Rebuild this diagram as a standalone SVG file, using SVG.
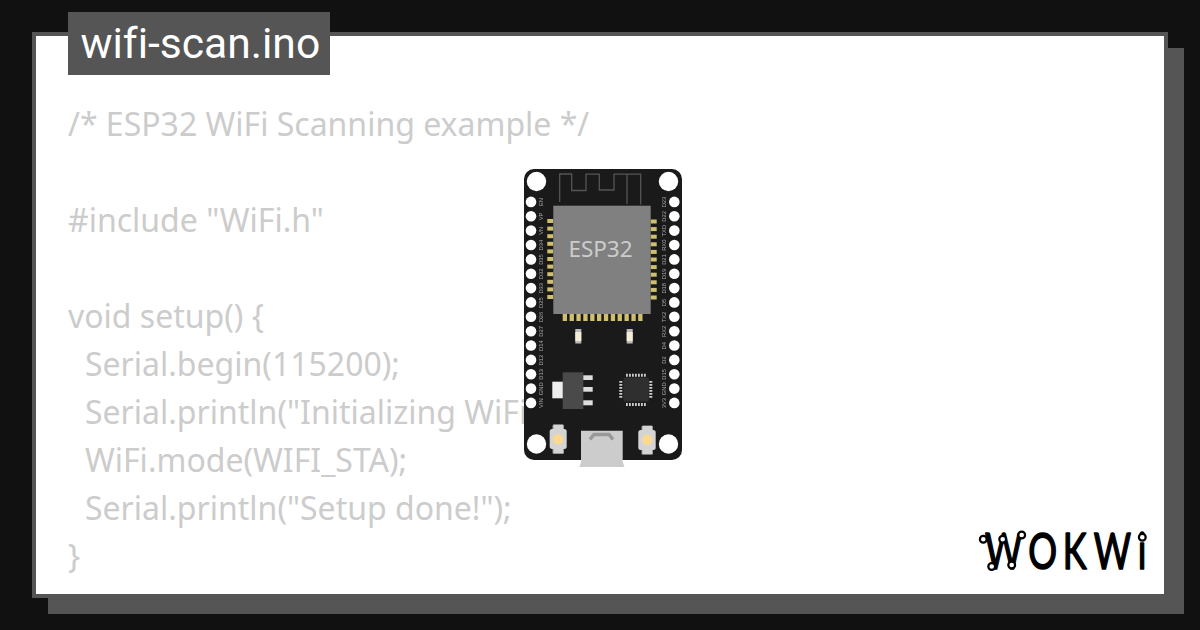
<svg xmlns="http://www.w3.org/2000/svg" width="1200" height="630" viewBox="0 0 1200 630">
<style>
text{font-variant-ligatures:none}
.code{font-family:"Noto Sans","Open Sans",sans-serif;font-size:32px;fill:#ccc}
.pin{fill:#fff}
.pad{fill:#cfc070}
.lb{font-family:"Liberation Sans",Arial,sans-serif;font-size:5.8px;fill:#aaa;text-anchor:middle}
.sv{fill:#d4d4d4}
.svd{fill:#999}
.q{fill:#ddd}
.led{fill:#bbb}
.ring{fill:#fff;stroke:#000;stroke-width:2.2}
</style>
<rect width="1200" height="630" fill="#111"/>
<rect x="48" y="48" width="1136" height="566" fill="#555"/>
<rect x="34" y="34" width="1132" height="562" fill="#fff" stroke="#555" stroke-width="4"/>
<g id="title" opacity="0.999"><rect x="68" y="12" width="262" height="63" fill="#555"/>
<text x="80.5" y="58" font-family="Roboto,sans-serif" font-size="42.6" fill="#fff">wifi-scan.ino</text></g>
<g id="code" opacity="0.999">
<text class="code" x="68" y="136">/* ESP32 WiFi Scanning example */</text>
<text class="code" x="68" y="232">#include "WiFi.h"</text>
<text class="code" x="68" y="328">void setup() {</text>
<text class="code" x="85" y="376">Serial.begin(115200);</text>
<text class="code" x="85" y="424">Serial.println("Initializing WiFi</text>
<text class="code" x="85" y="472">WiFi.mode(WIFI_STA);</text>
<text class="code" x="85" y="520">Serial.println("Setup done!");</text>
<text class="code" x="68" y="568">}</text>
</g>
<g id="esp32" opacity="0.999">
<rect x="524" y="169" width="158" height="291" rx="10" fill="#1a1a1a"/>
<g fill="#fff"><circle cx="536.5" cy="181.5" r="9.7"/><circle cx="668.5" cy="181.5" r="9.7"/><circle cx="536.5" cy="444" r="9.7"/><circle cx="668.5" cy="444" r="9.7"/></g>
<path d="M559.7 202V174H571.7V190.5H586V174.2H599.3V190H614V174.2H640.7V204.5M627 174.2V204" fill="none" stroke="#555" stroke-width="1.3"/>
<g class="pin"><circle cx="531" cy="201.9" r="5.3"/><circle cx="531" cy="216.3" r="5.3"/><circle cx="531" cy="230.6" r="5.3"/><circle cx="531" cy="245" r="5.3"/><circle cx="531" cy="259.4" r="5.3"/><circle cx="531" cy="273.7" r="5.3"/><circle cx="531" cy="288.1" r="5.3"/><circle cx="531" cy="302.4" r="5.3"/><circle cx="531" cy="316.8" r="5.3"/><circle cx="531" cy="331.2" r="5.3"/><circle cx="531" cy="345.5" r="5.3"/><circle cx="531" cy="359.9" r="5.3"/><circle cx="531" cy="374.2" r="5.3"/><circle cx="531" cy="388.6" r="5.3"/><circle cx="531" cy="402.9" r="5.3"/>
<circle cx="674.3" cy="201.9" r="5.3"/><circle cx="674.3" cy="216.3" r="5.3"/><circle cx="674.3" cy="230.6" r="5.3"/><circle cx="674.3" cy="245" r="5.3"/><circle cx="674.3" cy="259.4" r="5.3"/><circle cx="674.3" cy="273.7" r="5.3"/><circle cx="674.3" cy="288.1" r="5.3"/><circle cx="674.3" cy="302.4" r="5.3"/><circle cx="674.3" cy="316.8" r="5.3"/><circle cx="674.3" cy="331.2" r="5.3"/><circle cx="674.3" cy="345.5" r="5.3"/><circle cx="674.3" cy="359.9" r="5.3"/><circle cx="674.3" cy="374.2" r="5.3"/><circle cx="674.3" cy="388.6" r="5.3"/><circle cx="674.3" cy="402.9" r="5.3"/></g>
<g class="lb">
<text transform="translate(543,202) rotate(-90)">EN</text><text transform="translate(543,216.4) rotate(-90)">VP</text><text transform="translate(543,230.8) rotate(-90)">VN</text><text transform="translate(543,245.2) rotate(-90)">D34</text><text transform="translate(543,259.5) rotate(-90)">D35</text><text transform="translate(543,273.9) rotate(-90)">D32</text><text transform="translate(543,288.3) rotate(-90)">D33</text><text transform="translate(543,302.6) rotate(-90)">D25</text><text transform="translate(543,317) rotate(-90)">D26</text><text transform="translate(543,331.4) rotate(-90)">D27</text><text transform="translate(543,345.7) rotate(-90)">D14</text><text transform="translate(543,360.1) rotate(-90)">D12</text><text transform="translate(543,374.4) rotate(-90)">D13</text><text transform="translate(543,388.8) rotate(-90)">GND</text><text transform="translate(543,403.1) rotate(-90)">VIN</text>
<text transform="translate(666,202) rotate(-90)">D23</text><text transform="translate(666,216.4) rotate(-90)">D22</text><text transform="translate(666,230.8) rotate(-90)">TXD</text><text transform="translate(666,245.2) rotate(-90)">RX0</text><text transform="translate(666,259.5) rotate(-90)">D21</text><text transform="translate(666,273.9) rotate(-90)">D19</text><text transform="translate(666,288.3) rotate(-90)">D18</text><text transform="translate(666,302.6) rotate(-90)">D5</text><text transform="translate(666,317) rotate(-90)">TX2</text><text transform="translate(666,331.4) rotate(-90)">RX2</text><text transform="translate(666,345.7) rotate(-90)">D4</text><text transform="translate(666,360.1) rotate(-90)">D2</text><text transform="translate(666,374.4) rotate(-90)">D15</text><text transform="translate(666,388.8) rotate(-90)">GND</text><text transform="translate(666,403.1) rotate(-90)">3V3</text>
</g>
<g class="pad"><rect x="547.3" y="219" width="6" height="4"/><rect x="547.3" y="226.6" width="6" height="4"/><rect x="547.3" y="234.2" width="6" height="4"/><rect x="547.3" y="241.8" width="6" height="4"/><rect x="547.3" y="249.4" width="6" height="4"/><rect x="547.3" y="257" width="6" height="4"/><rect x="547.3" y="264.6" width="6" height="4"/><rect x="547.3" y="272.2" width="6" height="4"/><rect x="547.3" y="279.8" width="6" height="4"/><rect x="547.3" y="287.4" width="6" height="4"/><rect x="547.3" y="295" width="6" height="4"/>
<rect x="650.7" y="219.5" width="6" height="4"/><rect x="650.7" y="227.1" width="6" height="4"/><rect x="650.7" y="234.7" width="6" height="4"/><rect x="650.7" y="242.3" width="6" height="4"/><rect x="650.7" y="249.9" width="6" height="4"/><rect x="650.7" y="257.5" width="6" height="4"/><rect x="650.7" y="265.1" width="6" height="4"/><rect x="650.7" y="272.7" width="6" height="4"/><rect x="650.7" y="280.3" width="6" height="4"/><rect x="650.7" y="287.9" width="6" height="4"/><rect x="650.7" y="295.5" width="6" height="4"/>
<rect x="562.7" y="314" width="4.3" height="7"/><rect x="569.6" y="314" width="4.3" height="7"/><rect x="576.4" y="314" width="4.3" height="7"/><rect x="583.3" y="314" width="4.3" height="7"/><rect x="590.2" y="314" width="4.3" height="7"/><rect x="597" y="314" width="4.3" height="7"/><rect x="603.9" y="314" width="4.3" height="7"/><rect x="610.8" y="314" width="4.3" height="7"/><rect x="617.6" y="314" width="4.3" height="7"/><rect x="624.5" y="314" width="4.3" height="7"/><rect x="631.4" y="314" width="4.3" height="7"/><rect x="638.2" y="314" width="4.3" height="7"/></g>
<rect x="553.3" y="205.7" width="97.4" height="108.3" fill="#808080"/>
<text x="600.5" y="256.5" text-anchor="middle" font-family="'Noto Sans',sans-serif" font-size="22.5" fill="#ccc">ESP32</text>
<g class="led"><rect x="575.3" y="329" width="6" height="14.5"/><rect x="626.7" y="329" width="6" height="14.5"/></g>
<rect x="575.3" y="332" width="6" height="9" fill="#f5ecd8"/><rect x="626.7" y="332" width="6" height="9" fill="#f5ecd8"/>
<rect x="552.3" y="381.7" width="11" height="16.6" fill="#eee"/>
<rect x="562.7" y="372.3" width="20.6" height="36.7" fill="#4a4a4a"/>
<g class="q"><rect x="583.3" y="375.3" width="9.4" height="4.7"/><rect x="583.3" y="387" width="9.4" height="4.7"/><rect x="583.3" y="400.3" width="9.4" height="5"/></g>
<rect x="623.3" y="377.5" width="25.5" height="24" rx="1.5" fill="#2f2f2f"/>
<path d="M626 375.2H647M626 404.4H647M620.8 381V399M650.8 381V399" stroke="#ccc" stroke-width="3" stroke-dasharray="1.8 1.2" fill="none"/>
<g class="svd"><rect x="552.5" y="424.3" width="11.5" height="29.7" rx="1.5"/><rect x="641.5" y="425.5" width="11.5" height="29.3" rx="1.5"/></g>
<g class="sv"><rect x="549.7" y="429" width="17" height="20" rx="2.5"/><rect x="638.3" y="430" width="17.4" height="20" rx="2.5"/><rect x="553.5" y="425" width="9.5" height="4"/><rect x="553.5" y="449" width="9.5" height="4"/><rect x="642.5" y="426" width="9.5" height="4"/><rect x="642.5" y="450" width="9.5" height="4"/></g>
<circle cx="558" cy="439.3" r="5.2" fill="#fcd98f"/><circle cx="647.3" cy="439.8" r="5.2" fill="#fcd98f"/>
<path d="M581 430.7H622.7V462L624.5 467H579.5L581 462Z" fill="#ccc"/>
<path d="M590 439.5L594 434.5H609L613 439.5" fill="none" stroke="#999" stroke-width="3.5"/>
</g>
<g id="logo" opacity="0.999">
<text transform="translate(985,569) scale(.72,1)" font-family="Lato,sans-serif" font-size="50" x="0 60 108 151 212" stroke="#000" stroke-width="1.6" stroke-linejoin="round">WOKWi</text>
<circle class="ring" cx="983.3" cy="539.3" r="3.4"/><circle class="ring" cx="1002.7" cy="539.3" r="3.4"/><circle class="ring" cx="1021.7" cy="535" r="3.4"/><circle class="ring" cx="991.7" cy="566.5" r="3.4"/><circle class="ring" cx="1011.7" cy="565" r="3.4"/><circle class="ring" cx="1142.3" cy="537.3" r="3.4"/>
</g>
</svg>
